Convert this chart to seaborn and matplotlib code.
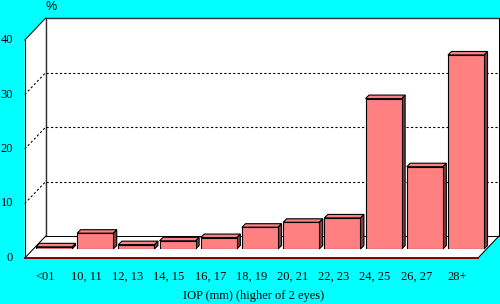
import matplotlib
matplotlib.use('Agg')
import matplotlib.pyplot as plt
from matplotlib.patches import Polygon
import seaborn as sns
import pandas as pd

categories = ['<01', '10, 11', '12, 13', '14, 15', '16, 17', '18, 19',
              '20, 21', '22, 23', '24, 25', '26, 27', '28+']
values = [0.4, 2.9, 0.8, 1.5, 2.1, 4.0, 4.9, 5.7, 27.6, 15.1, 35.6]
y_ticks = [0, 10, 20, 30, 40]
grid_values = [10, 20, 30]
y_label = '%'
x_label = 'IOP (mm) (higher of 2 eyes)'

W, H, DPI = 500, 304, 100
plt.rcParams['font.family'] = ['Liberation Serif', 'DejaVu Serif']

fig = plt.figure(figsize=(W / DPI, H / DPI), dpi=DPI, facecolor='#00FFFF')

# background axes in pixel coordinates (for 3D walls / decorations)
bg = fig.add_axes([0, 0, 1, 1], zorder=0)
bg.set_xlim(0, W)
bg.set_ylim(H, 0)
bg.axis('off')

# bar-plane axes
left_px, right_px = 33.4, 486.6
base_px, top_px = 249.0, 31.0
ax = fig.add_axes([left_px / W, (H - base_px) / H,
                   (right_px - left_px) / W, (base_px - top_px) / H], zorder=1)
ax.patch.set_visible(False)

df = pd.DataFrame({'cat': categories, 'val': values})
sns.barplot(data=df, x='cat', y='val', color='#FF8080', saturation=1,
            width=0.875, edgecolor='black', linewidth=0.8, ax=ax)
ax.set_xlim(-0.5, len(categories) - 0.5)
ax.set_ylim(y_ticks[0], y_ticks[-1])
for s in ax.spines.values():
    s.set_visible(False)
ax.set_xticks([])
ax.set_yticks([])
ax.set_xlabel('')
ax.set_ylabel('')


def to_px(x, y):
    d = ax.transData.transform((x, y))
    return d[0], H - d[1]


FX, FY = -8.6, 9.0     # front plane offset
BX, BY = 12.4, -13.0   # back plane offset
LW = 0.75

xl, yb = to_px(-0.5, y_ticks[0])
xr, yt = to_px(len(categories) - 0.5, y_ticks[-1])

# walls
back = Polygon([(xl + BX, yt + BY), (xr + BX, yt + BY), (xr + BX, yb + BY), (xl + BX, yb + BY)],
               closed=True, facecolor='white', edgecolor='none', zorder=1)
leftw = Polygon([(xl + FX, yt + FY), (xl + BX, yt + BY), (xl + BX, yb + BY), (xl + FX, yb + FY)],
                closed=True, facecolor='white', edgecolor='none', zorder=1)
floor = Polygon([(xl + FX, yb + FY), (xl + BX, yb + BY), (xr + BX, yb + BY), (xr + FX, yb + FY)],
                closed=True, facecolor='white', edgecolor='none', zorder=1)
for p in (back, leftw, floor):
    bg.add_patch(p)

# wall edges
bg.plot([xl + BX, xr + BX], [yt + BY, yt + BY], color='#303030', lw=1.0, zorder=2)
bg.plot([xr + BX, xr + BX], [yt + BY, yb + BY], color='black', lw=LW, zorder=2)
bg.plot([xl + BX, xl + BX], [yt + BY, yb + BY], color='#303030', lw=1.0, zorder=2)
bg.plot([xl + BX, xr + BX], [yb + BY, yb + BY], color='black', lw=LW, zorder=2)
bg.plot([xl + FX, xl + FX], [yt + FY, yb + FY], color='black', lw=LW, zorder=2)
bg.plot([xl + FX, xl + BX], [yt + FY, yt + BY], color='black', lw=LW, zorder=2)
bg.plot([xl + FX, xl + BX], [yb + FY, yb + BY], color='black', lw=LW, zorder=2)
bg.plot([xr + FX, xr + BX], [yb + FY, yb + BY], color='black', lw=LW, zorder=2)
bg.plot([xl + FX, xr + FX], [yb + FY, yb + FY], color='#800000', lw=1.4, zorder=2)

# gridlines
for v in grid_values:
    _, yv = to_px(0, v)
    bg.plot([xl + BX, xr + BX], [yv + BY, yv + BY], color='black', lw=0.8,
            linestyle=(0, (2, 2)), zorder=2)
    bg.plot([xl + FX, xl + BX], [yv + FY, yv + BY], color='black', lw=0.8,
            linestyle=(0, (2, 2)), zorder=2)

# 3D bar faces
D = 3.5
for p in ax.patches:
    x0 = p.get_x()
    x1 = x0 + p.get_width()
    h = p.get_height()
    X0, Yh = to_px(x0, h)
    X1, Yb = to_px(x1, 0)
    top = Polygon([(X0, Yh), (X0 + D, Yh - D), (X1 + D, Yh - D), (X1, Yh)], closed=True,
                  facecolor='#FF8080', edgecolor='black', lw=0.8, zorder=5)
    side = Polygon([(X1, Yb), (X1 + D, Yb - D), (X1 + D, Yh - D), (X1, Yh)], closed=True,
                   facecolor='#804040', edgecolor='black', lw=0.8, zorder=5)
    bg.add_patch(side)
    bg.add_patch(top)

# tick labels
for i, c in enumerate(categories):
    xc, _ = to_px(i, 0)
    bg.text(xc + FX, 277, c, ha='center', va='center', fontsize=9, color='black', zorder=6)
for v in y_ticks:
    _, yv = to_px(0, v)
    bg.text(13, yv + FY, str(v), ha='right', va='center', fontsize=9, color='black', zorder=6)

bg.text(xl + BX, 7, y_label, ha='left', va='center', fontsize=9,
        family=['Liberation Sans', 'DejaVu Sans'], zorder=6)
bg.text(253.5, 296, x_label, ha='center', va='center', fontsize=9, zorder=6)

fig.savefig('out.png', dpi=DPI, facecolor=fig.get_facecolor())
